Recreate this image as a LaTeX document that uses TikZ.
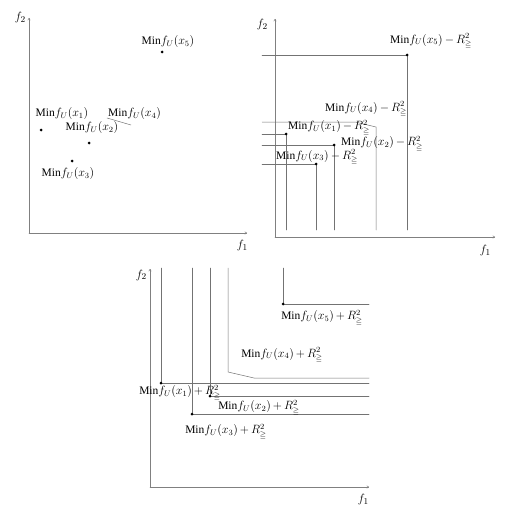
\documentclass[tikz,border=0pt]{standalone}
\usepackage{amsmath,amssymb}
\usepackage{fontspec}
\setmainfont{Liberation Serif}
\usetikzlibrary{arrows.meta,positioning}
\newcommand{\conedotsize}{1.5pt}
\tikzset{
  axis line/.style={draw=black!50,line width=.5pt,-{To[length=2.5pt,width=3pt]}},
  cone edge/.style={draw=black!55,line width=.5pt},
  point label/.style={font=\fontsize{11.5}{13}\selectfont,inner sep=1pt},
  axis label/.style={font=\fontsize{12.5}{14}\selectfont,inner sep=1pt}
}
\newcommand{\ConeDot}[1]{\fill (#1) circle (\conedotsize);}
\newcommand{\MinF}[1]{Min$f_U(x_{#1})$}
\newcommand{\ConeM}{$\,{-}\,R^2_{\geqq}$}
\newcommand{\ConeP}{$\,{+}\,R^2_{\geqq}$}

\begin{document}
\begin{tikzpicture}[x=1pt,y=-1pt,line cap=round,line join=round]
\useasboundingbox (0,0) rectangle (505,516);
% panel a: the five images
 \coordinate (ao) at (29,233);
  \coordinate (ay) at (29,18);
  \coordinate (ax) at (247,233);
  \coordinate (a1) at (41,130);
  \coordinate (a2) at (89,143);
  \coordinate (a3) at (72,161);
  \coordinate (a4) at (131,125);
  \coordinate (a4t) at (107,118);
  \coordinate (a5) at (162,52);

  \draw[axis line] (ao)--(ay);
  \draw[axis line] (ao)--(ax);
  \draw[cone edge] (a4t)--(a4);
  \foreach \p in {a1,a2,a3,a5} {\ConeDot{\p}}
  \node[axis label,left=2pt] at (ay) {$f_2$};
  \node[axis label,below left=6pt and -2pt] at (ax) {$f_1$};
  \node[point label,above=9pt,xshift=21pt] at (a1) {\MinF{1}};
  \node[point label,above=8pt,xshift=3pt] at (a2) {\MinF{2}};
  \node[point label,below=5pt,xshift=-4pt] at (a3) {\MinF{3}};
  \node[point label,above right=-3pt and 0pt] at (a4t) {\MinF{4}};
  \node[point label,above=3pt,xshift=6pt] at (a5) {\MinF{5}};

% panel b: minus cones
 \coordinate (bo) at (275,237);
  \coordinate (by) at (275,19);
  \coordinate (bx) at (495,237);
  \coordinate (b1) at (286,134);
  \coordinate (b2) at (334,145);
  \coordinate (b3) at (316,164);
  \coordinate (b4) at (376,127);
  \coordinate (b4k) at (355,122);
  \coordinate (b5) at (407,55);

  \draw[axis line] (bo)--(by);
  \draw[axis line] (bo)--(bx);
  \foreach \p in {1,2,3,5}
    {\draw[cone edge] (262,0 |- b\p)--(b\p)--(b\p |- 0,230);}
  \draw[cone edge] (262,0 |- b4k)--(b4k)--(b4)--(b4 |- 0,230);
  \foreach \p in {b1,b2,b3,b5} {\ConeDot{\p}}
  \node[axis label,left=6pt,yshift=-6pt] at (by) {$f_2$};
  \node[axis label,below left=7pt and 3pt] at (bx) {$f_1$};
  \node[point label,right=1pt,yshift=6pt] at (b1) {\MinF{1}\ConeM};
  \node[point label,right=6pt,yshift=1pt] at (b2) {\MinF{2}\ConeM};
  \node[point label,above=-2pt,xshift=1pt] at (b3) {\MinF{3}\ConeM};
  \node[point label,above=9pt,xshift=-10pt] at (b4) {\MinF{4}\ConeM};
  \node[point label,above=5pt,xshift=24pt] at (b5) {\MinF{5}\ConeM};

% panel c: plus cones
 \coordinate (co) at (150,487);
  \coordinate (cy) at (150,269);
  \coordinate (cx) at (369,487);
  \coordinate (c1) at (161,383);
  \coordinate (c2) at (210,396);
  \coordinate (c3) at (192,414);
  \coordinate (c4) at (228,372);
  \coordinate (c4k) at (254,378);
  \coordinate (c5) at (283,304);

  \draw[axis line] (co)--(cy);
  \draw[axis line] (co)--(cx);
  \foreach \p in {1,2,3,5}
    {\draw[cone edge] (c\p |- 0,268)--(c\p)--(369,0 |- c\p);}
  \draw[cone edge] (c4 |- 0,268)--(c4)--(c4k)--(369,0 |- c4k);
  \foreach \p in {c1,c2,c3,c5} {\ConeDot{\p}}
  \node[axis label,left=2pt,yshift=-6pt] at (cy) {$f_2$};
  \node[axis label,below left=6pt and -1pt] at (cx) {$f_1$};
  \node[point label,below=1pt,xshift=19pt] at (c1) {\MinF{1}\ConeP};
  \node[point label,below=3pt,xshift=49pt] at (c2) {\MinF{2}\ConeP};
  \node[point label,below=9pt,xshift=34pt] at (c3) {\MinF{3}\ConeP};
  \node[point label,above=8pt,xshift=54pt] at (c4) {\MinF{4}\ConeP};
  \node[point label,below=5pt,xshift=39pt] at (c5) {\MinF{5}\ConeP};
\end{tikzpicture}
\end{document}
